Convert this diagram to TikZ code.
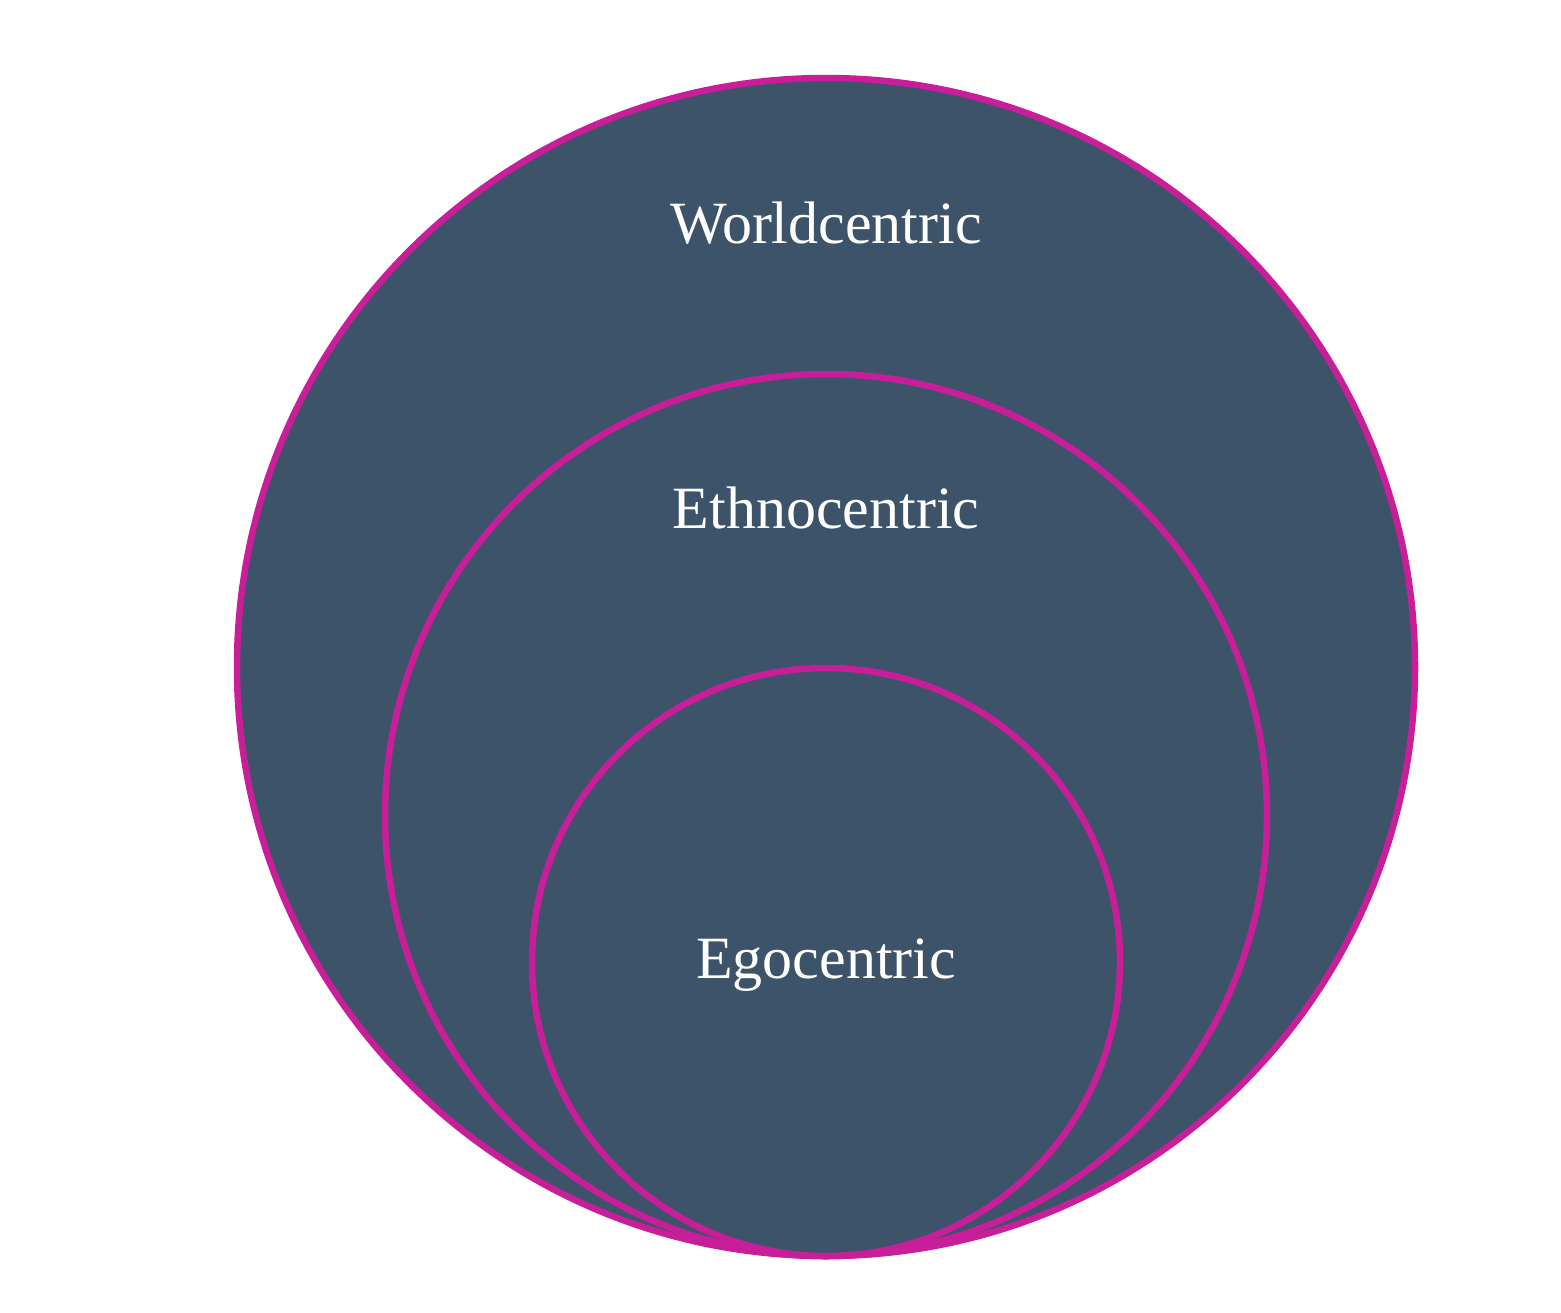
\documentclass[tikz,border=0pt]{standalone}
\usepackage{fontspec}
\setmainfont{Liberation Serif}
\definecolor{slate}{HTML}{3C5369}
\definecolor{ring}{HTML}{C81E9A}
\tikzset{
  zone/.style={circle, draw=ring, fill=slate, line width=6.5pt, inner sep=0pt},
  zonelabel/.style={text=white, anchor=base, font=\fontsize{60}{64}\selectfont, inner sep=0pt}
}
\begin{document}
\begin{tikzpicture}[x=1pt,y=-1pt]
\useasboundingbox (0,0) rectangle (1561,1312);
\node[zone, minimum size=1178pt] (world) at (826,667) {};
\node[zone, minimum size=882pt] (ethno) at (826,815) {};
\node[zone, minimum size=588pt] (ego) at (826,962) {};
\node[zonelabel] (tworld) at (826,243) {Worldcentric};
\node[zonelabel] (tethno) at (826,528) {Ethnocentric};
\node[zonelabel] (tego) at (826,978) {Egocentric};
\end{tikzpicture}
\end{document}
